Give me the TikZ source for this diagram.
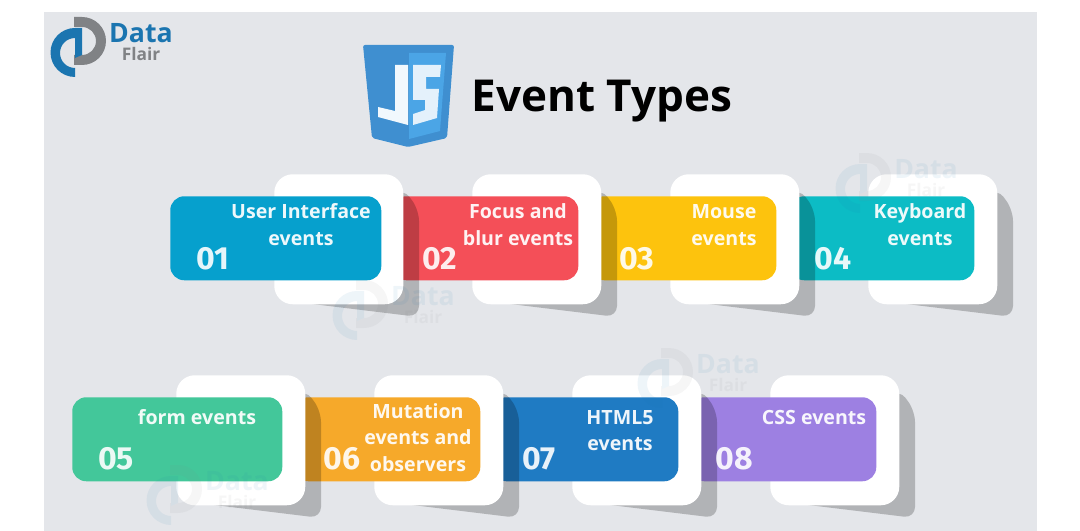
\documentclass[tikz,border=0pt]{standalone}
\usepackage{fontspec}
\setmainfont{Open Sans}
\newfontfamily\titlefont{Open Sans}
\newfontfamily\numfont{Fira Sans}
\definecolor{pagebg}{HTML}{E4E6EA}
\definecolor{cblue}{HTML}{06A0CD}
\definecolor{cred}{HTML}{F44F58}
\definecolor{cyellow}{HTML}{FDC30D}
\definecolor{cteal}{HTML}{0CBCC5}
\definecolor{cgreen}{HTML}{43C79A}
\definecolor{corange}{HTML}{F6A92A}
\definecolor{cdblue}{HTML}{1F7BC3}
\definecolor{cpurple}{HTML}{9D80E2}
\definecolor{logoblue}{HTML}{1B75B0}
\definecolor{logogray}{HTML}{808285}
\definecolor{jsdark}{HTML}{3F8FD0}
\definecolor{jslight}{HTML}{4BA5E6}
\tikzset{
  x=0.75pt,y=-0.75pt,
  whitecard/.style={draw=none,fill=white,rounded corners=18.5*0.75pt,minimum width=129*0.75pt,minimum height=130*0.75pt,inner sep=0pt,anchor=north west},
  barbox/.style={draw=none,rounded corners=14*0.75pt,minimum height=84*0.75pt,inner sep=0pt,anchor=north west},
  cardshadow/.style={fill=black,fill opacity=0.22,rounded corners=11*0.75pt},
  cardlabel/.style={text=white,font=\bfseries\fontsize{14.7}{15}\selectfont,inner sep=0pt,anchor=center,opacity=0.93,text height=11pt,text depth=0pt},
  numlabel/.style={text=white,font=\numfont\bfseries\fontsize{24}{24}\selectfont,inner sep=0pt,anchor=center,opacity=0.9},
}
\newcommand{\onecard}[6]{%
  % name, white left, white top, bar left, bar width, colour
  \fill[cardshadow] (#2+129,#3+14) -- (#2+145,#3+36) -- (#2+145,#3+143) -- (#2+22,#3+128) -- (#2+10,#3+100) -- cycle;
  \node[whitecard] (w#1) at (#2,#3) {};
  \node[barbox,fill=#6,minimum width=#5*0.75pt] (b#1) at (#4,#3+22) {};
}
\newcommand{\logo}[4]{%
  % id, x, y, opacity
  \begin{scope}[shift={(#2,#3)},transparency group,opacity=#4]
    \fill[logogray] (24,0) -- (32,0) arc[start angle=-90,end angle=90,radius=24] -- (24,48) -- (24,38) -- (32,38)
      arc[start angle=90,end angle=-90,radius=14] -- (24,10) -- cycle;
    \fill[logoblue] (32,11) -- (32,38) -- (25,41) -- (25,21)
      arc[start angle=-90,end angle=-270,radius=15] -- (25,60)
      arc[start angle=90,end angle=270,radius=24.5] -- cycle;
    \node[text=logoblue,font=\bfseries\fontsize{20}{20}\selectfont,inner sep=0pt,anchor=center] (lgd#1) at (91,16) {Data};
    \node[text=logogray,font=\bfseries\fontsize{13}{13}\selectfont,inner sep=0pt,anchor=center] (lgf#1) at (91,37) {Flair};
  \end{scope}
}
\begin{document}
\begin{tikzpicture}
\useasboundingbox (0,0) rectangle (1080,531);
\fill[white] (0,0) rectangle (1080,531);
\fill[pagebg] (44,12) rectangle (1037,531);
% logo
\logo{main}{50}{17}{1}
% shield
\fill[jsdark,rounded corners=1.5pt] (363,45) -- (454,45) -- (447,138) -- (408,147) -- (372,138) -- cycle;
\fill[jslight] (409,53) -- (446,53) -- (440,131) -- (409,139) -- cycle;
\fill[white!92!jslight] (395,65) -- (408,65) -- (408,125) -- (378,117) -- (378,107) -- (395,111) -- cycle;
\fill[white!85!jslight] (413,65) -- (441,65) -- (440,77) -- (426,77) -- (426,89) -- (439,89) -- (437,118) -- (413,125) -- (413,114) -- (425,110) -- (425,100) -- (413,100) -- cycle;
\node[font=\titlefont\bfseries\fontsize{33}{33}\selectfont,text=black,inner sep=0pt,anchor=center] (title) at (602,101) {Event Types};
% row 1, right to left
\onecard{4}{868}{174}{790}{184}{cteal}
\onecard{3}{670}{174}{590}{186}{cyellow}
\onecard{2}{472}{174}{392}{186}{cred}
\onecard{1}{274}{174}{170}{211}{cblue}
% row 2
\onecard{8}{770}{375}{690}{186}{cpurple}
\onecard{7}{572}{375}{492}{186}{cdblue}
\onecard{6}{374}{375}{294}{186}{corange}
\onecard{5}{176}{375}{72}{210}{cgreen}
% labels
\node[cardlabel] (t1a) at (301,211) {User Interface};
\node[cardlabel] (t1b) at (301,238) {events};
\node[numlabel] (n1) at (213,259) {01};
\node[cardlabel] (t2a) at (518,211) {Focus and};
\node[cardlabel] (t2b) at (518,238) {blur events};
\node[numlabel] (n2) at (440,259) {02};
\node[cardlabel] (t3a) at (724,211) {Mouse};
\node[cardlabel] (t3b) at (724,238) {events};
\node[numlabel] (n3) at (637,259) {03};
\node[cardlabel] (t4a) at (920,211) {Keyboard};
\node[cardlabel] (t4b) at (920,238) {events};
\node[numlabel] (n4) at (833,259) {04};
\node[cardlabel] (t5a) at (197,417) {form events};
\node[numlabel] (n5) at (116,459) {05};
\node[cardlabel] (t6a) at (418,411) {Mutation};
\node[cardlabel] (t6b) at (418,437) {events and};
\node[cardlabel] (t6c) at (418,464) {observers};
\node[numlabel] (n6) at (342,459) {06};
\node[cardlabel] (t7a) at (620,417) {HTML5};
\node[cardlabel] (t7b) at (620,443) {events};
\node[numlabel] (n7) at (539,459) {07};
\node[cardlabel] (t8a) at (814,417) {CSS events};
\node[numlabel] (n8) at (734,459) {08};
% watermarks
\logo{wa}{835}{153}{0.07}
\logo{wb}{332}{280}{0.07}
\logo{wc}{637}{348}{0.07}
\logo{wd}{146}{465}{0.07}
\end{tikzpicture}
\end{document}
